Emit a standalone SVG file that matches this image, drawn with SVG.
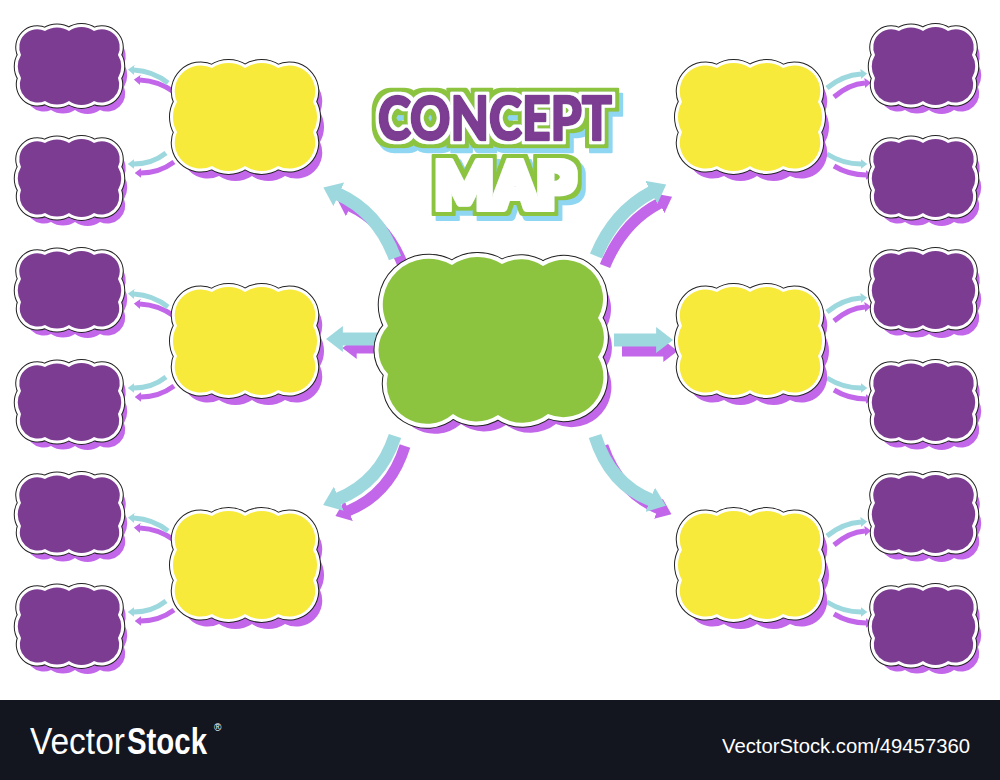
<svg xmlns="http://www.w3.org/2000/svg" xmlns:xlink="http://www.w3.org/1999/xlink" width="1000" height="780" viewBox="0 0 1000 780">
<style>
.sh{fill:#C266EA}
.ol{fill:none;stroke:#222;stroke-width:8;stroke-linejoin:round}
.ow{fill:none;stroke:#fff;stroke-width:6;stroke-linejoin:round}
.olg{fill:none;stroke:#222;stroke-width:10;stroke-linejoin:round}
.owg{fill:none;stroke:#fff;stroke-width:8;stroke-linejoin:round}
.fp{fill:#7B3C92}
.fy{fill:#F7EA3A}
.fg{fill:#8CC43F}
.ab{fill:none;stroke:#9DD8DF;marker-end:url(#hb)}
.ap{fill:none;stroke:#C266EA;marker-end:url(#hp)}
.big{stroke-width:13}
.bigp{stroke-width:11}
.sm{stroke-width:5}
.tt{font-family:Lato,'DejaVu Sans',sans-serif;font-weight:900;stroke-linejoin:round;filter:url(#tfx)}
.tcp{fill:#7B3C92;stroke:#7B3C92;stroke-width:2.5}
.tmw{fill:#fff;stroke:#fff;stroke-width:2}
.bn{font-family:'Liberation Sans',Arial,sans-serif;fill:#fff}
</style>
<defs>
<filter id="tfx" x="-15%" y="-30%" width="130%" height="170%">
<feMorphology in="SourceAlpha" operator="dilate" radius="2.5" result="w"/>
<feFlood flood-color="#ffffff"/><feComposite in2="w" operator="in" result="white"/>
<feMorphology in="SourceAlpha" operator="dilate" radius="7" result="g"/>
<feFlood flood-color="#8CC43F"/><feComposite in2="g" operator="in" result="green"/>
<feOffset in="g" dx="4" dy="5" result="gs"/>
<feFlood flood-color="#8FD6F3"/><feComposite in2="gs" operator="in" result="blue"/>
<feMerge><feMergeNode in="blue"/><feMergeNode in="green"/><feMergeNode in="white"/><feMergeNode in="SourceGraphic"/></feMerge>
</filter>
<marker id="hb" viewBox="0 0 10 10" refX="0.5" refY="5" markerWidth="1.3" markerHeight="2" orient="auto" preserveAspectRatio="none"><path d="M0,0 L10,5 L0,10 z" fill="#9DD8DF"/></marker>
<marker id="hp" viewBox="0 0 10 10" refX="0.5" refY="5" markerWidth="1.3" markerHeight="2" orient="auto" preserveAspectRatio="none"><path d="M0,0 L10,5 L0,10 z" fill="#C266EA"/></marker>
<path id="cp" d="M28,4 A22,22 0 0 1 52,4 A22,22 0 0 1 77,4 A18,18 0 0 1 101,28 A22,22 0 0 1 101,51 A18,18 0 0 1 77,74 A22,22 0 0 1 52,74 A22,22 0 0 1 28,74 A18,18 0 0 1 4,51 A22,22 0 0 1 4,28 A18,18 0 0 1 28,4 Z"/>
<path id="cy" d="M40,5 A30,30 0 0 1 73,5 A30,30 0 0 1 106,5 A26,26 0 0 1 141,39 A30,30 0 0 1 141,69 A26,26 0 0 1 106,103 A30,30 0 0 1 73,103 A30,30 0 0 1 40,103 A26,26 0 0 1 5,69 A30,30 0 0 1 5,39 A26,26 0 0 1 40,5 Z"/>
<path id="cg" d="M452,265 A45,45 0 0 1 502,264 A40,40 0 0 1 543,266 A39,39 0 0 1 598,318 A35,35 0 0 1 598,357 A40,40 0 0 1 548,414 A42,42 0 0 1 498,415 A40,40 0 0 1 453,414 A40,40 0 0 1 388,374 A35,35 0 0 1 388,326 A46,46 0 0 1 452,265 Z"/>
<g id="smL">
<path class="ap sm" d="M174,29 Q159,18 140,17"/>
<path class="ab sm" d="M168,20 Q153,8 134,7"/>
<path class="ap sm" d="M174,99 Q159,110 141,110"/>
<path class="ab sm" d="M166,90 Q152,101 134,101"/>
</g>
<g id="smR">
<path class="ap sm" d="M834,34 Q849,21 865,20"/>
<path class="ab sm" d="M827,25 Q843,12 861,11"/>
<path class="ap sm" d="M834,103 Q849,112 866,112"/>
<path class="ab sm" d="M827,91 Q843,101 861,101"/>
</g>
</defs>
<rect width="1000" height="780" fill="#fff"/>

<g id="connectors">
<path class="ap bigp" d="M404,268 Q388,224 350,206"/>
<path class="ab big" d="M395,258 Q378,212 338,194"/>
<path class="ap bigp" d="M605,266 Q623,222 660,203"/>
<path class="ab big" d="M596,256 Q614,212 652,192"/>
<path class="ap bigp" d="M384,348 L356,348"/>
<path class="ab big" d="M381,339 L342,339"/>
<path class="ap bigp" d="M622,351 L664,351"/>
<path class="ab big" d="M614,340 L657,340"/>
<path class="ap bigp" d="M405,446 Q390,494 348,511"/>
<path class="ab big" d="M395,436 Q380,482 338,499"/>
<path class="ap bigp" d="M603,446 Q619,492 659,509"/>
<path class="ab big" d="M595,436 Q610,484 651,500"/>
<use xlink:href="#smL" href="#smL" y="63"/>
<use xlink:href="#smL" href="#smL" y="287"/>
<use xlink:href="#smL" href="#smL" y="511"/>
<use xlink:href="#smR" href="#smR" y="63"/>
<use xlink:href="#smR" href="#smR" y="287"/>
<use xlink:href="#smR" href="#smR" y="511"/>
</g>

<g id="center">
<use href="#cg" class="sh" x="8" y="10"/>
<use href="#cg" class="olg"/>
<use href="#cg" class="owg"/>
<use href="#cg" class="fg"/>
</g>

<g id="yellow-left-1" transform="translate(172,63)"><use href="#cy" class="sh" x="7" y="10"/><use href="#cy" class="ol"/><use href="#cy" class="ow"/><use href="#cy" class="fy"/></g>
<g id="yellow-left-2" transform="translate(172,287)"><use href="#cy" class="sh" x="7" y="10"/><use href="#cy" class="ol"/><use href="#cy" class="ow"/><use href="#cy" class="fy"/></g>
<g id="yellow-left-3" transform="translate(172,511)"><use href="#cy" class="sh" x="7" y="10"/><use href="#cy" class="ol"/><use href="#cy" class="ow"/><use href="#cy" class="fy"/></g>
<g id="yellow-right-1" transform="translate(677,63)"><use href="#cy" class="sh" x="7" y="10"/><use href="#cy" class="ol"/><use href="#cy" class="ow"/><use href="#cy" class="fy"/></g>
<g id="yellow-right-2" transform="translate(677,287)"><use href="#cy" class="sh" x="7" y="10"/><use href="#cy" class="ol"/><use href="#cy" class="ow"/><use href="#cy" class="fy"/></g>
<g id="yellow-right-3" transform="translate(677,511)"><use href="#cy" class="sh" x="7" y="10"/><use href="#cy" class="ol"/><use href="#cy" class="ow"/><use href="#cy" class="fy"/></g>

<g id="purple-left-1" transform="translate(17,27)"><use href="#cp" class="sh" x="6" y="9"/><use href="#cp" class="ol"/><use href="#cp" class="ow"/><use href="#cp" class="fp"/></g>
<g id="purple-left-2" transform="translate(17,139)"><use href="#cp" class="sh" x="6" y="9"/><use href="#cp" class="ol"/><use href="#cp" class="ow"/><use href="#cp" class="fp"/></g>
<g id="purple-left-3" transform="translate(17,251)"><use href="#cp" class="sh" x="6" y="9"/><use href="#cp" class="ol"/><use href="#cp" class="ow"/><use href="#cp" class="fp"/></g>
<g id="purple-left-4" transform="translate(17,363)"><use href="#cp" class="sh" x="6" y="9"/><use href="#cp" class="ol"/><use href="#cp" class="ow"/><use href="#cp" class="fp"/></g>
<g id="purple-left-5" transform="translate(17,475)"><use href="#cp" class="sh" x="6" y="9"/><use href="#cp" class="ol"/><use href="#cp" class="ow"/><use href="#cp" class="fp"/></g>
<g id="purple-left-6" transform="translate(17,587)"><use href="#cp" class="sh" x="6" y="9"/><use href="#cp" class="ol"/><use href="#cp" class="ow"/><use href="#cp" class="fp"/></g>
<g id="purple-right-1" transform="translate(871,27)"><use href="#cp" class="sh" x="6" y="9"/><use href="#cp" class="ol"/><use href="#cp" class="ow"/><use href="#cp" class="fp"/></g>
<g id="purple-right-2" transform="translate(871,139)"><use href="#cp" class="sh" x="6" y="9"/><use href="#cp" class="ol"/><use href="#cp" class="ow"/><use href="#cp" class="fp"/></g>
<g id="purple-right-3" transform="translate(871,251)"><use href="#cp" class="sh" x="6" y="9"/><use href="#cp" class="ol"/><use href="#cp" class="ow"/><use href="#cp" class="fp"/></g>
<g id="purple-right-4" transform="translate(871,363)"><use href="#cp" class="sh" x="6" y="9"/><use href="#cp" class="ol"/><use href="#cp" class="ow"/><use href="#cp" class="fp"/></g>
<g id="purple-right-5" transform="translate(871,475)"><use href="#cp" class="sh" x="6" y="9"/><use href="#cp" class="ol"/><use href="#cp" class="ow"/><use href="#cp" class="fp"/></g>
<g id="purple-right-6" transform="translate(871,587)"><use href="#cp" class="sh" x="6" y="9"/><use href="#cp" class="ol"/><use href="#cp" class="ow"/><use href="#cp" class="fp"/></g>

<g id="title">
<text class="tt tcp" x="378" y="140" font-size="60" textLength="234" lengthAdjust="spacingAndGlyphs">CONCEPT</text>
<text class="tt tmw" x="435" y="208" font-size="62" textLength="140" lengthAdjust="spacingAndGlyphs">MAP</text>
</g>

<g id="banner">
<rect x="0" y="700" width="1000" height="80" fill="#13151F"/>
<g transform="translate(0,754) scale(1,1.2) translate(0,-754)">
<text class="bn" x="30" y="754" font-size="30" textLength="95" lengthAdjust="spacingAndGlyphs">Vector</text>
<text class="bn" x="127" y="754" font-size="30" font-weight="700" textLength="80" lengthAdjust="spacingAndGlyphs">Stock</text>
</g>
<text class="bn" x="214" y="731" font-size="10">®</text>
<text class="bn" x="722" y="753" font-size="20" textLength="248" lengthAdjust="spacingAndGlyphs">VectorStock.com/49457360</text>
</g>
</svg>
